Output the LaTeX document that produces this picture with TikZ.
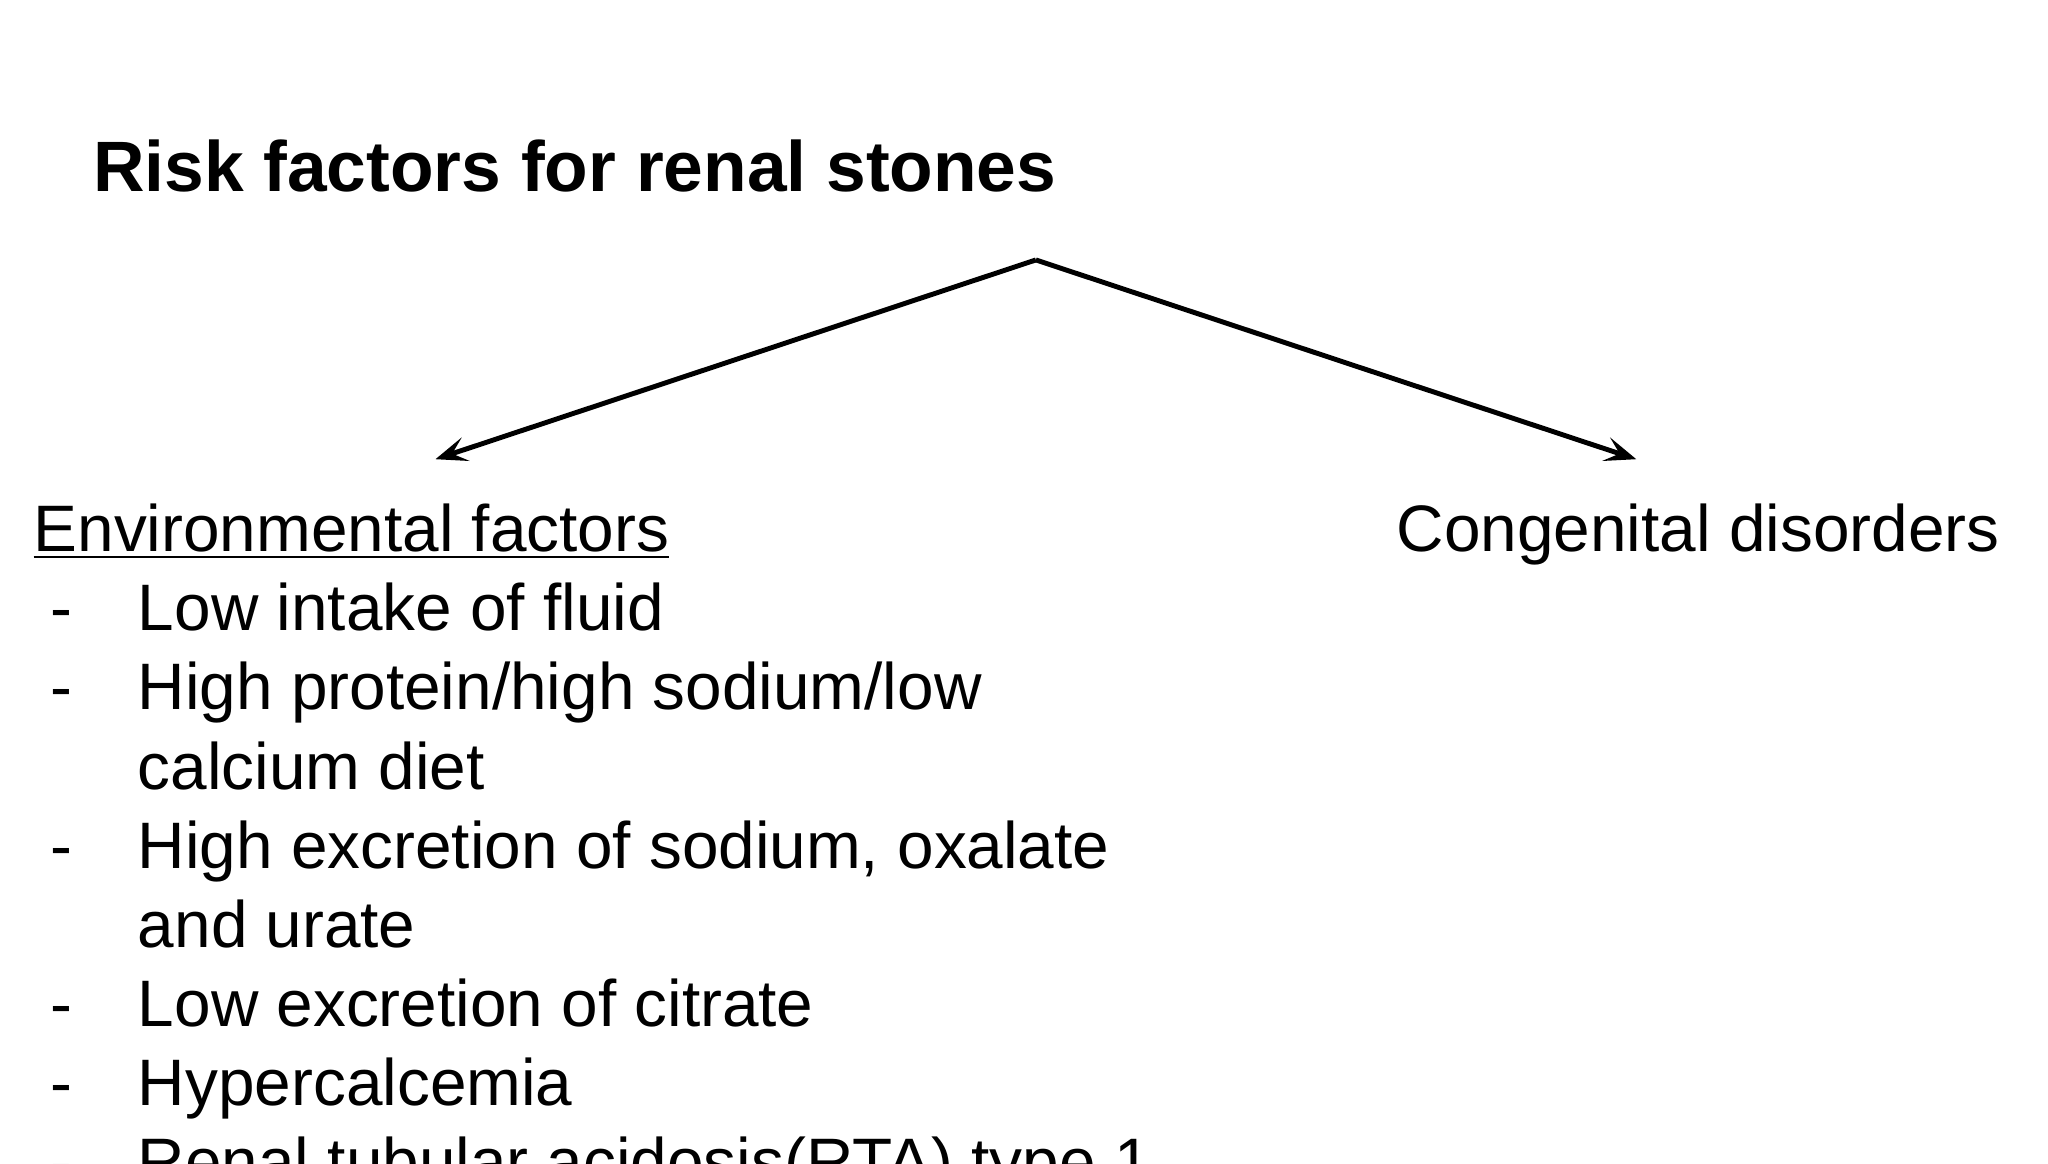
\documentclass[tikz,border=0pt]{standalone}
\usepackage{fontspec}
\setmainfont{Liberation Sans}
\usetikzlibrary{arrows.meta}
\begin{document}
\begin{tikzpicture}[x=0.0132cm,y=-0.0132cm,
  txt/.style={anchor=base west,inner sep=0pt,font=\fontsize{18.7}{22}\selectfont},
  ttl/.style={anchor=base west,inner sep=0pt,font=\fontsize{20.3}{24}\selectfont\bfseries},
  conn/.style={line width=1.4pt,-{Stealth[length=9pt,width=7pt,inset=4pt]}}]
\useasboundingbox (0,0) rectangle (1552,882);
\clip (0,0) rectangle (1552,882);
\node[ttl] (title) at (70,145) {Risk factors for renal stones};
\coordinate (top) at (785,197);
\coordinate (l) at (330,348);
\coordinate (r) at (1240,348);
\draw[conn] (top) -- (l);
\draw[conn] (top) -- (r);
\node[txt] (env) at (25,418) {\underline{Environmental factors}};
\node[txt] (cong) at (1058,418) {Congenital disorders};
\foreach \y/\d/\t [count=\i] in {478/-/Low intake of fluid,538/-/High protein\slash high sodium\slash low,598//calcium diet,658/-/{High excretion of sodium, oxalate},718//and urate,778/-/Low excretion of citrate,838/-/Hypercalcemia,898/-/Renal tubular acidosis(RTA) type 1}{
  \node[txt] (d\i) at (38,\y) {\d};
  \node[txt] (t\i) at (104,\y) {\t};
}
\end{tikzpicture}
\end{document}
